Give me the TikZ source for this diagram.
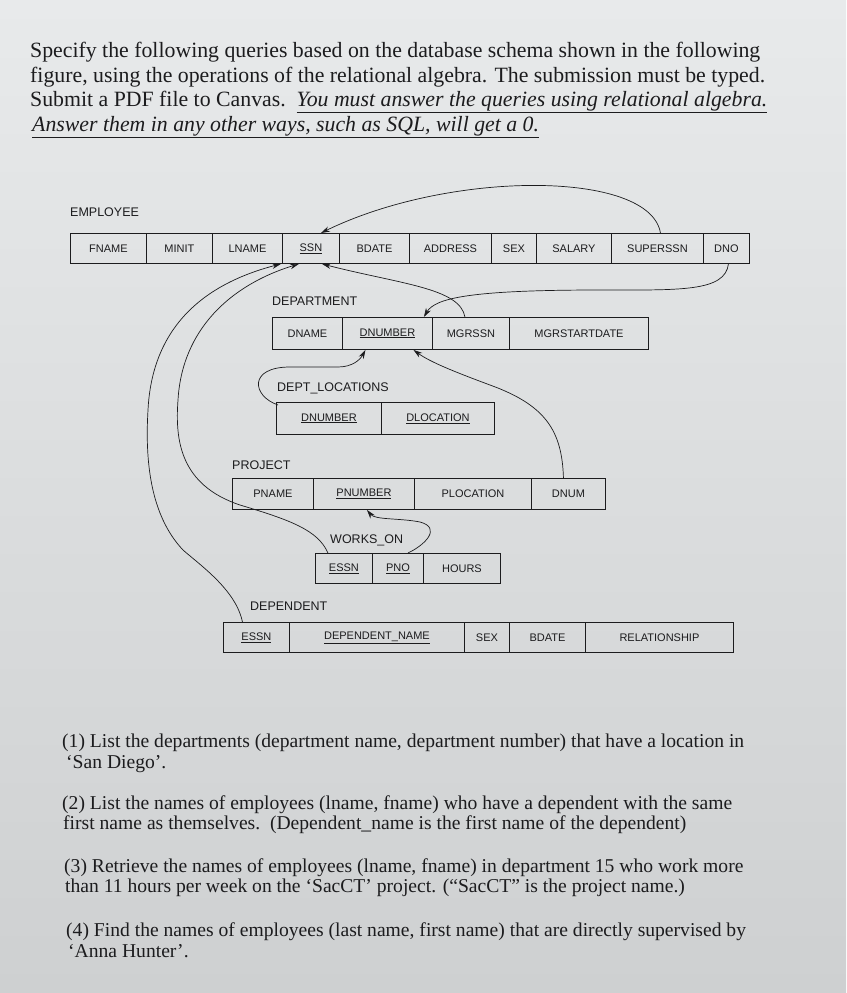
\documentclass[tikz,border=0pt]{standalone}
\usepackage{fontspec}
\setmainfont{Liberation Serif}
\setsansfont{Liberation Sans}
\usetikzlibrary{arrows.meta}

\definecolor{screenTop}{RGB}{232,234,235}
\definecolor{screenBot}{RGB}{206,208,209}
\definecolor{ink}{RGB}{28,28,30}

\tikzset{
  cell/.style={draw=ink, line width=0.9pt, anchor=north west, minimum height=30pt,
    inner sep=0pt, text=ink, font=\sffamily\fontsize{11}{12}\selectfont},
  tablename/.style={anchor=west, inner sep=0pt, text=ink, font=\sffamily\fontsize{12.5}{14}\selectfont},
  prose/.style={anchor=base west, inner sep=0pt, text=ink, font=\fontsize{21.8}{25}\selectfont},
  query/.style={anchor=base west, inner sep=0pt, text=ink, font=\fontsize{19.6}{22}\selectfont},
  fk/.style={draw=ink, line width=0.7pt, -{Stealth[length=9pt,width=5.5pt]}},
}

\begin{document}
\begin{tikzpicture}[x=1pt, y=-1pt]
  % Screen background
  \useasboundingbox (0,0) rectangle (846,993);
  \shade[top color=screenTop, bottom color=screenBot] (0,0) rectangle (846,993);

  % Instructions
  \node[prose] (intro1) at (30,57) {Specify the following queries based on the database schema shown in the following};
  \node[prose] (intro2) at (30,82) {figure, using the operations of the relational algebra. The submission must be typed.};
  \node[prose] (intro3) at (30,106) {Submit a PDF file to Canvas.\ \ \underline{\itshape You must answer the queries using relational algebra.}};
  \node[prose] (intro4) at (32,131) {\underline{\itshape Answer them in any other ways, such as SQL, will get a 0.}};

  % EMPLOYEE
  \node[tablename] (lblemployee) at (70,212) {EMPLOYEE};
  \node[cell, minimum width=76pt] (efname) at (70,233) {FNAME};
  \node[cell, minimum width=66pt] (eminit) at (146,233) {MINIT};
  \node[cell, minimum width=70pt] (elname) at (212,233) {LNAME};
  \node[cell, minimum width=57pt] (essn) at (282,233) {\underline{SSN}};
  \node[cell, minimum width=70pt] (ebdate) at (339,233) {BDATE};
  \node[cell, minimum width=82pt] (eaddress) at (409,233) {ADDRESS};
  \node[cell, minimum width=45pt] (esex) at (491,233) {SEX};
  \node[cell, minimum width=75pt] (esalary) at (536,233) {SALARY};
  \node[cell, minimum width=92pt] (esuperssn) at (611,233) {SUPERSSN};
  \node[cell, minimum width=46pt] (edno) at (703,233) {DNO};

  % DEPARTMENT
  \node[tablename] (lbldepartment) at (272,301) {DEPARTMENT};
  \node[cell, minimum width=70pt, minimum height=32pt] (ddname) at (272,317) {DNAME};
  \node[cell, minimum width=90pt, minimum height=32pt] (ddnumber) at (342,317) {\underline{DNUMBER}};
  \node[cell, minimum width=77pt, minimum height=32pt] (dmgrssn) at (432,317) {MGRSSN};
  \node[cell, minimum width=139pt, minimum height=32pt] (dmgrstart) at (509,317) {MGRSTARTDATE};

  % DEPT_LOCATIONS
  \node[tablename] (lbllocations) at (277,388) {DEPT\_LOCATIONS};
  \node[cell, minimum width=105pt, minimum height=32pt] (ldnumber) at (276,402) {\underline{DNUMBER}};
  \node[cell, minimum width=113pt, minimum height=32pt] (ldlocation) at (381,402) {\underline{DLOCATION}};

  % PROJECT
  \node[tablename] (lblproject) at (232,465) {PROJECT};
  \node[cell, minimum width=81pt, minimum height=31pt] (ppname) at (232,478) {PNAME};
  \node[cell, minimum width=101pt, minimum height=31pt] (ppnumber) at (313,478) {\underline{PNUMBER}};
  \node[cell, minimum width=117pt, minimum height=31pt] (pplocation) at (414,478) {PLOCATION};
  \node[cell, minimum width=74pt, minimum height=31pt] (pdnum) at (531,478) {DNUM};

  % WORKS_ON
  \node[tablename] (lblworks) at (330,540) {WORKS\_ON};
  \node[cell, minimum width=57pt] (wessn) at (315,553) {\underline{ESSN}};
  \node[cell, minimum width=51pt] (wpno) at (372,553) {\underline{PNO}};
  \node[cell, minimum width=77pt] (whours) at (423,553) {HOURS};

  % DEPENDENT
  \node[tablename] (lbldependent) at (250,606) {DEPENDENT};
  \node[cell, minimum width=66pt] (tessn) at (223,622) {\underline{ESSN}};
  \node[cell, minimum width=175pt] (tdepname) at (289,622) {\underline{DEPENDENT\_NAME}};
  \node[cell, minimum width=45pt] (tsex) at (464,622) {SEX};
  \node[cell, minimum width=76pt] (tbdate) at (509,622) {BDATE};
  \node[cell, minimum width=148pt] (trelation) at (585,622) {RELATIONSHIP};

  % Foreign keys
  \draw[fk] ([xshift=3pt]esuperssn.north) .. controls (650,170) and (450,170) .. ([xshift=10pt]essn.north);
  \draw[fk] ([xshift=2pt]edno.south) .. controls (725,292) and (680,290) .. (600,290)
    .. controls (470,290) and (435,298) .. ([xshift=-9pt]ddnumber.north east);
  \draw[fk] ([xshift=-6pt]dmgrssn.north) .. controls (460,288) and (400,284) .. ([xshift=11pt]essn.south);
  \draw[fk] ([xshift=2pt,yshift=-3pt]ldnumber.north west) .. controls (252,396) and (248,367) .. (290,367)
    -- (338,367) .. controls (352,367) and (360,360) .. ([xshift=-22pt]ddnumber.south);
  \draw[fk] ([xshift=-5pt]pdnum.north) .. controls (562,430) and (545,405) .. (490,385)
    .. controls (455,372) and (430,362) .. ([xshift=26pt]ddnumber.south);
  \draw[fk] ([xshift=10pt]wpno.north) .. controls (425,545) and (442,528) .. (420,522)
    .. controls (400,518) and (375,520) .. ([xshift=3pt]ppnumber.south);
  \draw[fk] ([xshift=-16pt]wessn.north) .. controls (318,530) and (290,520) .. (240,505)
    .. controls (180,485) and (175,440) .. (178,400) .. controls (182,330) and (230,285) .. ([xshift=-12pt]essn.south);
  \draw[fk] ([xshift=-14pt]tessn.north) .. controls (236,590) and (200,565) .. (183,550)
    .. controls (150,515) and (145,460) .. (148,410) .. controls (152,330) and (200,285) .. ([xshift=-30pt]essn.south);

  % Queries
  \node[query] (q1a) at (62,747) {(1) List the departments (department name, department number) that have a location in};
  \node[query] (q1b) at (66,768) {‘San Diego’.};
  \node[query] (q2a) at (62,809) {(2) List the names of employees (lname, fname) who have a dependent with the same};
  \node[query] (q2b) at (63,829) {first name as themselves.\ \ (Dependent\_name is the first name of the dependent)};
  \node[query] (q3a) at (64,872) {(3) Retrieve the names of employees (lname, fname) in department 15 who work more};
  \node[query] (q3b) at (65,892) {than 11 hours per week on the ‘SacCT’ project. (“SacCT” is the project name.)};
  \node[query] (q4a) at (66,936) {(4) Find the names of employees (last name, first name) that are directly supervised by};
  \node[query] (q4b) at (68,957) {‘Anna Hunter’.};
\end{tikzpicture}
\end{document}
